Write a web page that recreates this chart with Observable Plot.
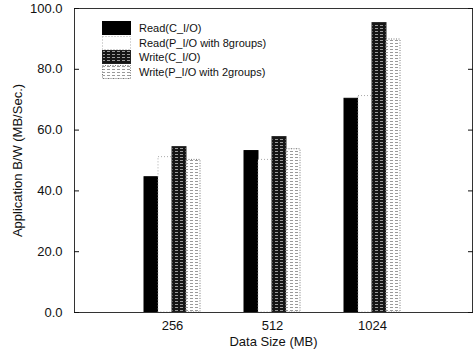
<!DOCTYPE html>
<html><head><meta charset="utf-8">
<script src="https://cdn.jsdelivr.net/npm/d3@7"></script>
<script src="https://cdn.jsdelivr.net/npm/@observablehq/plot@0.6"></script>
<style>
body{margin:0;background:#fff;font-family:"Liberation Sans",Arial,sans-serif;}
#wrap{position:relative;width:474px;height:351px;}
#legend{position:absolute;left:102px;top:21px;font-size:11px;color:#111;}
.row{display:flex;align-items:center;height:14.5px;}
.row svg{margin-right:8px;display:block;}
</style></head><body><div id="wrap"><div id="legend"></div></div>
<svg width="0" height="0" style="position:absolute">
<defs>
<pattern id="pWriteC" width="5" height="3" patternUnits="userSpaceOnUse">
<rect width="5" height="3" fill="#151515"/>
<rect y="1" width="3" height="1" fill="#9a9a9a"/>
</pattern>
<pattern id="pWrite2" width="5" height="3" patternUnits="userSpaceOnUse">
<rect width="5" height="3" fill="#fff"/>
<rect y="1" width="3" height="1" fill="#9a9a9a"/>
</pattern>
</defs>
</svg>
<script>
const sizes = ["256", "512", "1024"];
const seriesNames = ["Read(C_I/O)", "Read(P_I/O with 8groups)", "Write(C_I/O)", "Write(P_I/O with 2groups)"];
const readC = [44.5, 53.1, 70.3];
const readP = [51.1, 50.2, 71.2];
const writeC = [54.4, 57.7, 95.2];
const writeP = [50.2, 53.7, 89.8];
const yTicks = [0, 20, 40, 60, 80, 100];

const seriesValues = [readC, readP, writeC, writeP];
const fills = ["#000", "#fff", "url(#pWriteC)", "url(#pWrite2)"];
const strokes = ["#000", "#aaa", "#222", "#777"];
const dashes = [null, "1,2", null, "1,1.5"];

const data = [];
sizes.forEach((size, i) => seriesValues.forEach((vals, s) => data.push({size, i, s, series: seriesNames[s], value: vals[i]})));

const barW = 0.14;
const bars = seriesNames.map((name, s) => Plot.rectY(data.filter(d => d.s === s), {
  x1: d => d.i - 2 * barW + d.s * barW,
  x2: d => d.i - 2 * barW + (d.s + 1) * barW,
  y: "value",
  fill: fills[s],
  stroke: strokes[s],
  strokeDasharray: dashes[s],
  strokeWidth: 1
}));

const chart = Plot.plot({
  width: 474,
  height: 351,
  marginLeft: 74,
  marginRight: 2,
  marginTop: 8,
  marginBottom: 39,
  style: {fontFamily: "'Liberation Sans', Arial, sans-serif", fontSize: "13px", background: "#fff", color: "#111"},
  x: {type: "linear", domain: [-0.98, 3.0]},
  y: {domain: [0, 100]},
  marks: [
    ...bars,
    Plot.frame({stroke: "#333"}),
    Plot.axisY({ticks: yTicks, tickSize: -5, tickPadding: 17, tickFormat: d => d.toFixed(1), label: "Application B/W (MB/Sec.)", labelAnchor: "center", labelArrow: "none", labelOffset: 62, fontSize: 13}),
    Plot.axisY({anchor: "right", ticks: yTicks, tickSize: -5, tickFormat: () => "", label: null}),
    Plot.axisX({ticks: [0, 1, 2], tickSize: 0, tickPadding: 8, tickFormat: i => sizes[i], label: "Data Size (MB)", labelAnchor: "center", labelArrow: "none", labelOffset: 33, fontSize: 13})
  ]
});
document.getElementById("wrap").prepend(chart);

const legend = document.getElementById("legend");
seriesNames.forEach((name, s) => {
  const row = document.createElement("div");
  row.className = "row";
  row.innerHTML = `<svg width="29" height="14"><rect x="0.5" y="0.5" width="28" height="13" fill="${fills[s]}" stroke="${strokes[s]}" ${dashes[s] ? `stroke-dasharray="${dashes[s]}"` : ""}/></svg><span>${name}</span>`;
  legend.appendChild(row);
});
</script>
</body></html>
